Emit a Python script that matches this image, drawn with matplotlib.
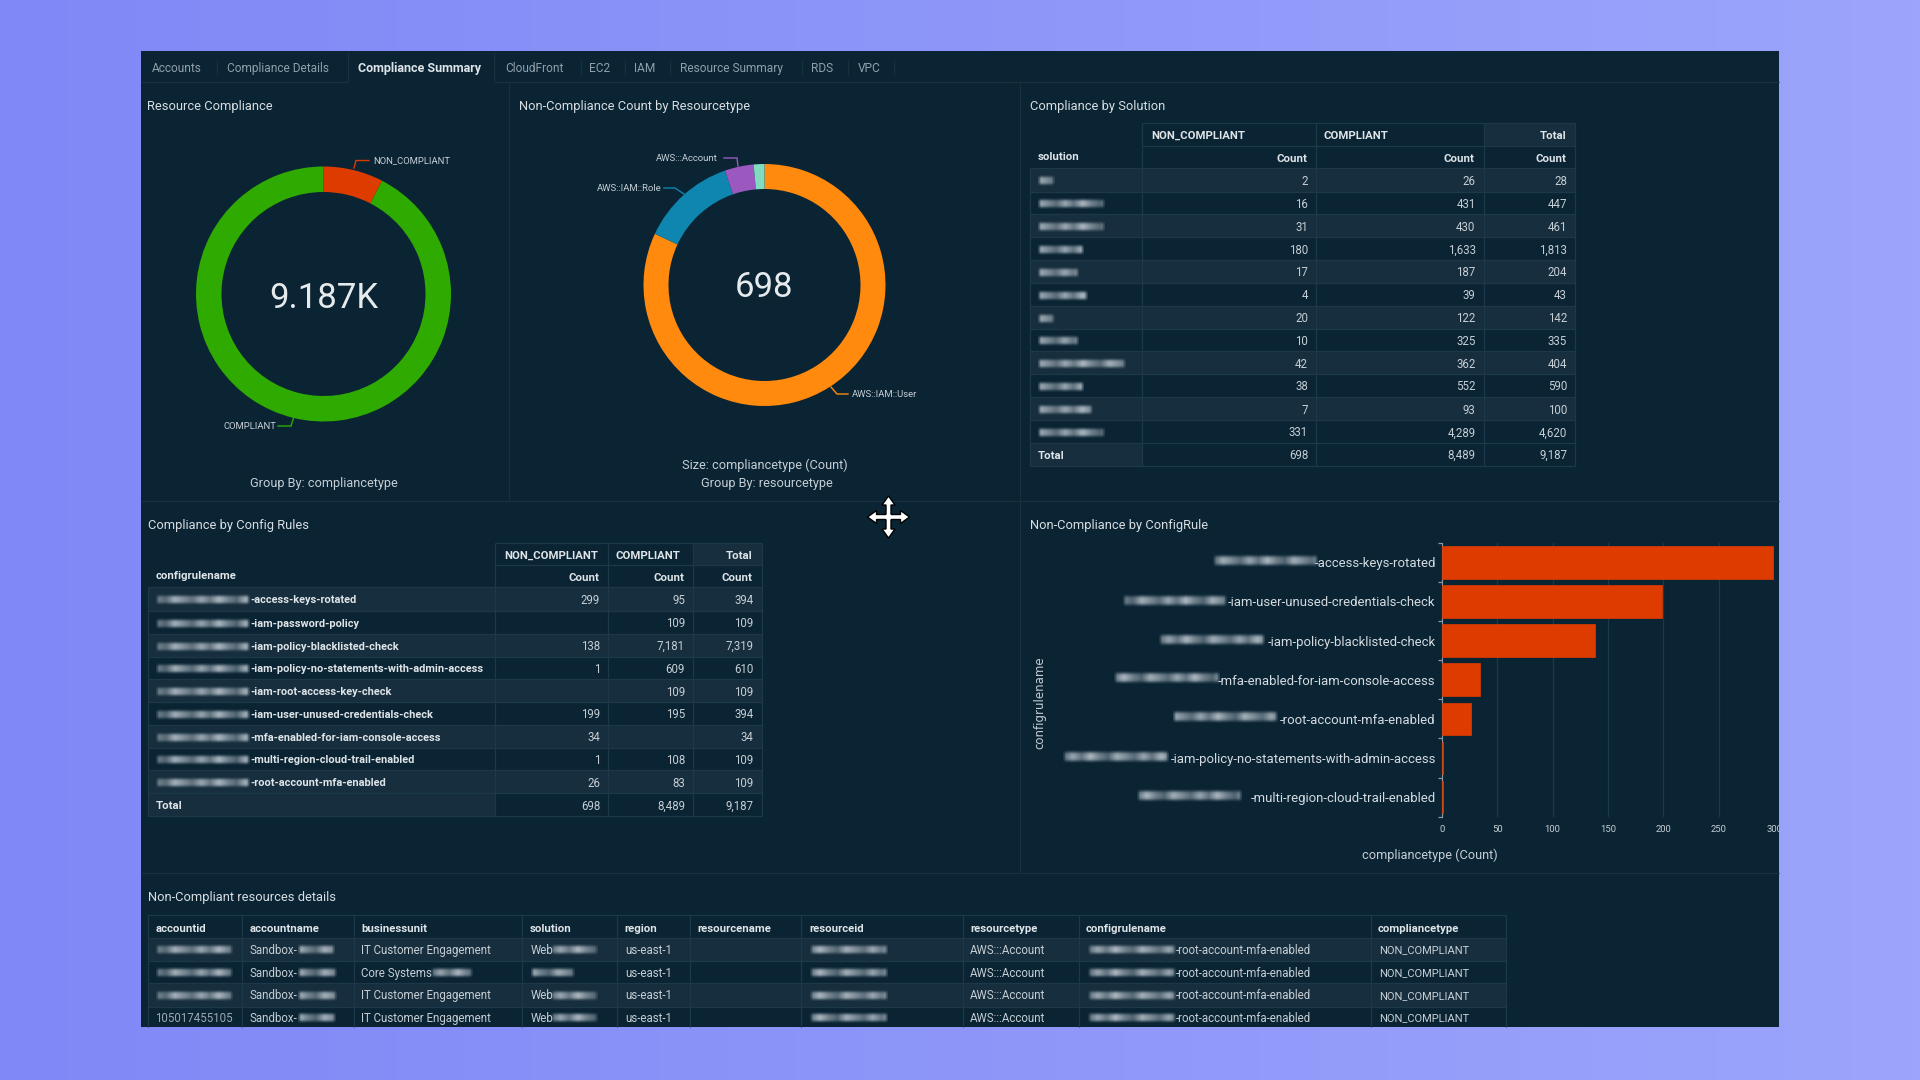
import numpy as np
import matplotlib
matplotlib.use("Agg")
from matplotlib import pyplot as plt
from matplotlib.patches import Rectangle, Polygon
from matplotlib.transforms import Bbox

plt.rcParams['font.family'] = ['Roboto', 'DejaVu Sans']

# data
tabs = ["Accounts", "Compliance Details", "Compliance Summary", "CloudFront", "EC2", "IAM",
        "Resource Summary", "RDS", "VPC"]

compliance_names = ["NON_COMPLIANT", "COMPLIANT"]
compliance_counts = [698, 8489]
resource_names = ["AWS::IAM::User", "AWS::IAM::Role", "AWS:::Account", ""]
resource_counts = [572, 89, 27, 10]

solution_non = ["2", "16", "31", "180", "17", "4", "20", "10", "42", "38", "7", "331", "698"]
solution_comp = ["26", "431", "430", "1,633", "187", "39", "122", "325", "362", "552", "93", "4,289", "8,489"]
solution_total = ["28", "447", "461", "1,813", "204", "43", "142", "335", "404", "590", "100", "4,620", "9,187"]

rule_names = ["-access-keys-rotated", "-iam-password-policy", "-iam-policy-blacklisted-check",
              "-iam-policy-no-statements-with-admin-access", "-iam-root-access-key-check",
              "-iam-user-unused-credentials-check", "-mfa-enabled-for-iam-console-access",
              "-multi-region-cloud-trail-enabled", "-root-account-mfa-enabled"]
rule_non = ["299", "", "138", "1", "", "199", "34", "1", "26", "698"]
rule_comp = ["95", "109", "7,181", "609", "109", "195", "", "108", "83", "8,489"]
rule_total = ["394", "109", "7,319", "610", "109", "394", "34", "109", "109", "9,187"]

bar_names = ["-access-keys-rotated", "-iam-user-unused-credentials-check", "-iam-policy-blacklisted-check",
             "-mfa-enabled-for-iam-console-access", "-root-account-mfa-enabled",
             "-iam-policy-no-statements-with-admin-access", "-multi-region-cloud-trail-enabled"]
bar_values = [299, 199, 138, 34, 26, 1, 1]
bar_ticks = [0, 50, 100, 150, 200, 250, 300]

detail_cols = ["accountid", "accountname", "businessunit", "solution", "region", "resourcename",
               "resourceid", "resourcetype", "configrulename", "compliancetype"]
detail_unit = ["IT Customer Engagement", "Core Systems ", "IT Customer Engagement", "IT Customer Engagement"]
detail_solution = ["Web", "", "Web", "Web"]
detail_type = "AWS:::Account"
detail_rule = "-root-account-mfa-enabled"
detail_comp = "NON_COMPLIANT"

# colours
PANEL = "#0a2434"
ROW = "#162e3d"
LINE = "#1d3848"
SEP = "#17313f"
TXT = "#c6ced4"
HEAD = "#dfe4e8"
MUTED = "#8fa0ab"
RED = "#de3b00"
GREEN = "#2eaa00"
ORANGE = "#ff8a0e"
BLUE = "#0e86b0"
PURPLE = "#9b59c0"
TEAL = "#7fdcc0"

W, H = 1920, 1080
fig = plt.figure(figsize=(19.2, 10.8), dpi=100)

# back layer, pixel coordinates
bg = fig.add_axes([0, 0, 1, 1], zorder=0)
bg.set_xlim(0, W)
bg.set_ylim(H, 0)
bg.set_autoscale_on(False)
bg.axis('off')
grad = np.linspace(0, 1, 256).reshape(1, -1, 1)
c0 = np.array([0x7f, 0x88, 0xf6]) / 255
c1 = np.array([0x9c, 0xa5, 0xfb]) / 255
bg.imshow(c0 + (c1 - c0) * grad, extent=[0, W, H, 0], aspect='auto', zorder=0)
bg.add_patch(Rectangle((141, 51), 1638, 976, fc=PANEL, ec='none', zorder=1))

# top layer for text, leaders and so on
top = fig.add_axes([0, 0, 1, 1], zorder=5)
top.set_xlim(0, W)
top.set_ylim(H, 0)
top.set_autoscale_on(False)
top.axis('off')


def txt(x, y, s, size=8.3, color=TXT, weight='normal', ha='left'):
    top.text(x, y + 1.2, s, fontsize=size, color=color, fontweight=weight, ha=ha, va='center')


def hline(x0, x1, y, color=LINE, lw=0.9):
    bg.plot([x0, x1], [y, y], color=color, lw=lw, zorder=3, solid_capstyle='butt')


def vline(x, y0, y1, color=LINE, lw=0.9):
    bg.plot([x, x], [y0, y1], color=color, lw=lw, zorder=3, solid_capstyle='butt')


blur_alpha = [0.62, 0.38, 0.7, 0.45, 0.3, 0.66, 0.5, 0.34]
blur_rgb = [0.74, 0.78, 0.81]
blur_v = np.array([0.0, 0.35, 0.85, 1.0, 1.0, 0.85, 0.35, 0.0])


def blur(x0, x1, y, h=13):
    # smeared text: soft blob with darker and lighter parts along it
    n = max(int((x1 - x0) / 2), 2)
    knots = np.arange(0, x1 - x0 + 9, 9)
    vals = [blur_alpha[(int(x0) + k) % 8] for k in range(len(knots))]
    along = np.interp(np.linspace(0, x1 - x0, n), knots, vals)
    edge = np.minimum(1, np.minimum(np.arange(n), np.arange(n)[::-1]) / 1.5 + 0.3)
    rgba = np.zeros((len(blur_v), n, 4))
    rgba[..., :3] = blur_rgb
    rgba[..., 3] = np.clip(np.outer(blur_v, along * edge) * 1.3, 0, 1)
    top.imshow(rgba, extent=[x0, x1, y + h / 2, y - h / 2], aspect='auto', interpolation='bilinear', zorder=1)


def leader(xs, ys, color):
    top.plot(xs, ys, color=color, lw=1.0, solid_joinstyle='miter')


# tabs
tab_x = [177, 278, 419, 534, 600, 645, 732, 822, 869]
for i, name in enumerate(tabs):
    if name == "Compliance Summary":
        txt(tab_x[i], 67, name, size=9, color=HEAD, weight='bold', ha='center')
    else:
        txt(tab_x[i], 67, name, size=8.6, color=MUTED, ha='center')
for x in [217, 581, 625, 670, 802, 848, 894]:
    vline(x, 60, 75, color=SEP)
for x in [348, 494]:
    vline(x, 52, 82, color=SEP)
hline(141, 348, 82, color=SEP)
hline(494, 1779, 82, color=SEP)

# panel separators
vline(509, 82, 501, color=SEP)
vline(1020, 82, 873, color=SEP)
hline(141, 1779, 501, color=SEP)
hline(141, 1779, 873, color=SEP)

# panel titles
txt(147, 105, "Resource Compliance", size=9.3, color="#d8dee2")
txt(519, 105, "Non-Compliance Count by Resourcetype", size=9.3, color="#d8dee2")
txt(1030, 105, "Compliance by Solution", size=9.3, color="#d8dee2")
txt(148, 524, "Compliance by Config Rules", size=9.3, color="#d8dee2")
txt(1030, 524, "Non-Compliance by ConfigRule", size=9.3, color="#d8dee2")
txt(148, 896, "Non-Compliant resources details", size=9.3, color="#d8dee2")


def donut(cx, cy, r, ring, values, colors):
    ax = fig.add_axes([(cx - r) / W, 1 - (cy + r) / H, 2 * r / W, 2 * r / H], zorder=2)
    ax.patch.set_alpha(0)
    ax.pie(values, colors=colors, startangle=90, counterclock=False, radius=1,
           wedgeprops=dict(width=ring / r, edgecolor='none'))
    ax.set_xlim(-1, 1)
    ax.set_ylim(-1, 1)
    return ax


donut(323.5, 294, 127.5, 25.5, compliance_counts, [RED, GREEN])
donut(764.5, 285, 121, 25, resource_counts, [ORANGE, BLUE, PURPLE, TEAL])

txt(323.5, 297, "9.187K", size=25, color="#e6eaed", ha='center')
txt(764, 286.5, "698", size=25, color="#e6eaed", ha='center')

txt(373, 159.5, compliance_names[0], size=6.8, color=TXT)
leader([354, 356, 369], [168, 160.5, 160.5], RED)
txt(223, 425.5, compliance_names[1], size=6.8, color=TXT)
leader([278, 291, 293.5], [426, 426, 418], GREEN)
txt(656, 157.5, resource_names[2], size=6.8, color=TXT)
leader([724, 737, 738], [158, 158, 166], PURPLE)
txt(597, 187.5, resource_names[1], size=6.8, color=TXT)
leader([664, 675, 684], [188, 188, 194], BLUE)
txt(852, 393.5, resource_names[0], size=6.8, color=TXT)
leader([831, 837, 848], [387, 394, 394], ORANGE)

txt(323.5, 482, "Group By: compliancetype", size=9.2, ha='center')
txt(765, 464, "Size: compliancetype (Count)", size=9.2, ha='center')
txt(767, 482, "Group By: resourcetype", size=9.2, ha='center')


def pivot(cols, rows, row_label, non, comp, total, names=None, blurs=None):
    # cols: x edges, rows: y edges (two header rows first)
    x0, x1, x2, x3, x4 = cols
    bg.add_patch(Rectangle((x3, rows[0]), x4 - x3, rows[1] - rows[0], fc=ROW, ec='none', zorder=2))
    n = len(non)
    for i in range(n):
        top_y, bot_y = rows[i + 2], rows[i + 3]
        if i % 2 == 0 and i < n - 1:
            bg.add_patch(Rectangle((x0, top_y), x4 - x0, bot_y - top_y, fc=ROW, ec='none', zorder=2))
        if i == n - 1:
            bg.add_patch(Rectangle((x0, top_y), x1 - x0, bot_y - top_y, fc=ROW, ec='none', zorder=2))
    for j, y in enumerate(rows):
        hline(x0 if j >= 2 else x1, x4, y)
    for x in [x1, x2, x3, x4]:
        vline(x, rows[0], rows[-1])
    vline(x0, rows[2], rows[-1])
    h1 = (rows[0] + rows[1]) / 2
    h2 = (rows[1] + rows[2]) / 2
    txt(x1 + 9, h1 + 0.5, "NON_COMPLIANT", size=8.2, color=HEAD, weight='bold')
    txt(x2 + 8, h1 + 0.5, "COMPLIANT", size=8.2, color=HEAD, weight='bold')
    txt(x4 - 9, h1 + 0.5, "Total", size=8.2, color=HEAD, weight='bold', ha='right')
    for x in [x2, x3, x4]:
        txt(x - 9, h2 + 0.5, "Count", size=8.2, color=HEAD, weight='bold', ha='right')
    txt(x0 + 7.5, rows[1] + 10, row_label, size=8.2, color=HEAD, weight='bold')
    for i in range(n):
        y = (rows[i + 2] + rows[i + 3]) / 2
        txt(x2 - 8, y + 0.3, non[i], ha='right')
        txt(x3 - 8, y + 0.3, comp[i], ha='right')
        txt(x4 - 8, y + 0.3, total[i], ha='right')
        if i == n - 1:
            txt(x0 + 7.5, y + 0.3, "Total", size=8.2, color=HEAD, weight='bold')
        elif names is not None:
            blur(x0 + 7.5, x0 + 101, y + 1)
            txt(x0 + 102, y + 0.3, names[i], size=7.95, color=HEAD, weight='bold')
        else:
            blur(x0 + 7.5, x0 + 7.5 + blurs[i], y + 1)


sol_rows = [123, 145.7, 168.3, 191.7, 214.3, 237, 260, 283, 305.7, 328.7, 351, 374, 397, 420, 442.7, 465.7]
sol_blur = [17, 67, 67, 46, 41, 50, 17, 41, 88, 46, 55, 67]
pivot([1030, 1142, 1316, 1483.6, 1575], sol_rows, "solution", solution_non, solution_comp, solution_total,
      blurs=sol_blur)

rule_rows = [542.7, 565, 587, 610.7, 633.7, 656.7, 679.3, 702, 725, 747.7, 770, 793.3, 816]
pivot([148, 495, 608, 693, 761.6], rule_rows, "configrulename", rule_non, rule_comp, rule_total,
      names=rule_names)

# bar chart, real axes
ax_w = 332
ax = fig.add_axes([1442 / W, 1 - 816.7 / H, ax_w / W, 274 / H], zorder=2)
ax.patch.set_alpha(0)
ypos = np.arange(len(bar_values))
ax.barh(ypos, bar_values, height=0.83, color=RED, edgecolor=RED, linewidth=0.5, zorder=3)
ax.set_xlim(0, 300)
ax.set_ylim(len(bar_values) - 0.5, -0.5)
ax.set_xticks(bar_ticks)
ax.set_yticks(ypos)
ax.set_yticklabels(bar_names, fontsize=9.45, color="#d5dbe0")
ax.set_yticks(np.arange(len(bar_values) + 1) - 0.5, minor=True)
ax.tick_params(axis='y', which='major', length=0, pad=4.5)
ax.tick_params(axis='y', which='minor', length=3, color="#8a9aa5", width=0.9)
ax.tick_params(axis='x', length=0, labelsize=6.8, labelcolor=TXT, pad=6)
ax.grid(axis='x', color=LINE, lw=0.9, zorder=0)
for s in ['top', 'right', 'bottom']:
    ax.spines[s].set_visible(False)
ax.spines['left'].set_color("#8a9aa5")
ax.set_xlabel("compliancetype (Count)", fontsize=9.2, color=TXT)
ax.xaxis.set_label_coords((1430 - 1442) / ax_w, -(855.7 - 816.7) / 274, transform=ax.transAxes)
ax.xaxis.label.set_va('center')
ax.set_ylabel("configrulename", fontsize=8.5, color=TXT, family='DejaVu Sans')
ax.yaxis.set_label_coords((1040 - 1442) / ax_w, (816.7 - 703) / 274, transform=ax.transAxes)
ax.yaxis.label.set_va('center')
clip = Bbox([[0, 0], [1779, H]])
for t in ax.get_xticklabels():
    t.set_clip_box(clip)
    t.set_clip_on(True)

bar_y = [561, 600.7, 639.7, 678, 717, 756.7, 795.7]
bar_blur = [(1212.5, 1317), (1123, 1227), (1159, 1265), (1113.5, 1219), (1173, 1278), (1063, 1169), (1137, 1242)]
for y, (a, b) in zip(bar_y, bar_blur):
    blur(a, b, y, h=15)

# bottom table
det_x = [148, 242, 353.5, 522, 617, 690, 801.4, 962.5, 1078.6, 1370.5, 1505.8]
det_y = [915, 937.7, 960.7, 983, 1006.7, 1027]
for i in range(4):
    if i % 2 == 0:
        bg.add_patch(Rectangle((148, det_y[i + 1]), 1505.8 - 148, det_y[i + 2] - det_y[i + 1], fc=ROW, ec='none', zorder=2))
for y in det_y[:-1]:
    hline(148, 1505.8, y)
for x in det_x:
    vline(x, 915, 1027)
for j, name in enumerate(detail_cols):
    txt(det_x[j] + 7.5, 927.5, name, size=8.2, color=HEAD, weight='bold')

acc_blur = [(155.5, 232), (155.5, 232), (155.5, 232)]
sand_blur = [(298, 335), (298, 337), (298, 337), (298, 336)]
unit_blur = [None, (431, 473), None, None]
sol_det_blur = [(551, 598), (530.5, 574), (551, 598), (551, 598)]
id_blur = [(809.6, 887), (809.6, 887), (809.6, 887), (809.6, 887)]
row_y = [949, 972, 994.7, 1017]
for i, y in enumerate(row_y):
    if i < 3:
        blur(acc_blur[i][0], acc_blur[i][1], y + 1)
    else:
        txt(155.5, y, "105017455105", color="#9aa8b2")
    txt(250, y, "Sandbox-")
    blur(sand_blur[i][0], sand_blur[i][1], y + 1)
    txt(361, y, detail_unit[i])
    if unit_blur[i] is not None:
        blur(unit_blur[i][0], unit_blur[i][1], y + 1)
    if detail_solution[i]:
        txt(530.5, y, detail_solution[i])
    blur(sol_det_blur[i][0], sol_det_blur[i][1], y + 1)
    txt(625, y, "us-east-1")
    blur(id_blur[i][0], id_blur[i][1], y + 1)
    txt(970, y, detail_type)
    blur(1087.5, 1175, y + 1)
    txt(1176, y, detail_rule)
    txt(1379, y, detail_comp, size=8.0)

# move cursor
cx, cy = 888.5, 517
arm = np.array([[-2.5, -3], [-2.5, -12], [-6.5, -12], [0, -21], [6.5, -12], [2.5, -12], [2.5, -3]])
pts = []
for k in range(4):
    a = k * np.pi / 2
    rot = np.array([[np.cos(a), -np.sin(a)], [np.sin(a), np.cos(a)]])
    pts.extend((arm @ rot.T).tolist())
pts = np.array(pts) + [cx, cy]
top.add_patch(Polygon(pts, closed=True, fc='white', ec='black', lw=1.0, zorder=10))

fig.savefig("out.png", dpi=100)
